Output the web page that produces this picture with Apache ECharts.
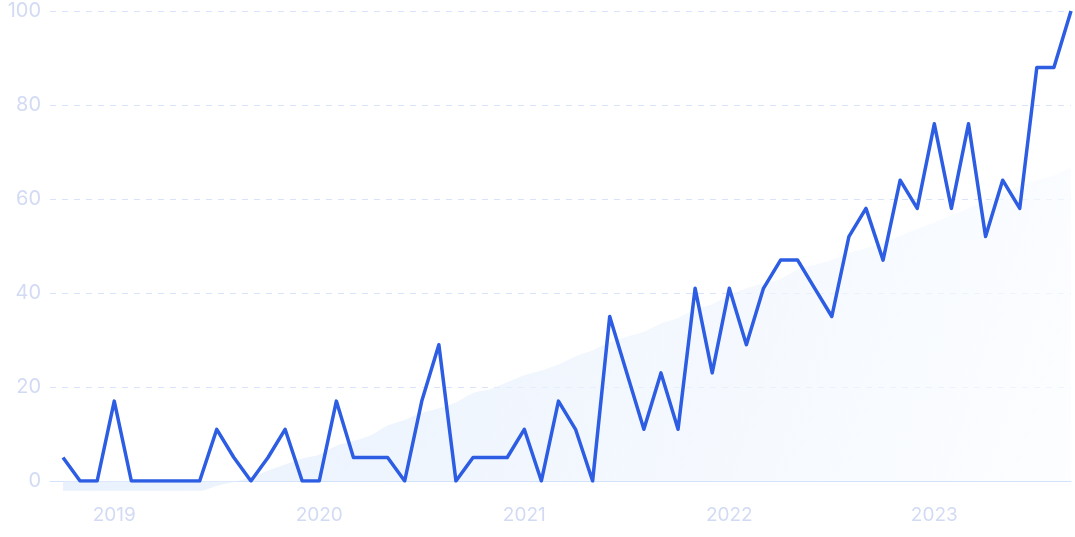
<!DOCTYPE html>
<html>
<head>
    <meta charset="utf-8">
    <script type="text/javascript" src="https://cdn.jsdelivr.net/npm/echarts@6/dist/echarts.min.js"></script>
    <title>interest over time</title>
    <style>
        html, body { margin: 0; padding: 0; background: #fff; }
    </style>
</head>
<body>
<div id="main" style="width: 1075px;height:537px;"></div>
<script type="text/javascript">

    // monthly categories, Oct 2018 .. Sep 2023
    var months = [
        '2018-10', '2018-11', '2018-12',
        '2019-01', '2019-02', '2019-03', '2019-04', '2019-05', '2019-06', '2019-07', '2019-08', '2019-09', '2019-10', '2019-11', '2019-12',
        '2020-01', '2020-02', '2020-03', '2020-04', '2020-05', '2020-06', '2020-07', '2020-08', '2020-09', '2020-10', '2020-11', '2020-12',
        '2021-01', '2021-02', '2021-03', '2021-04', '2021-05', '2021-06', '2021-07', '2021-08', '2021-09', '2021-10', '2021-11', '2021-12',
        '2022-01', '2022-02', '2022-03', '2022-04', '2022-05', '2022-06', '2022-07', '2022-08', '2022-09', '2022-10', '2022-11', '2022-12',
        '2023-01', '2023-02', '2023-03', '2023-04', '2023-05', '2023-06', '2023-07', '2023-08', '2023-09'
    ];

    // search interest (blue line)
    var interest = [
        5, 0, 0,
        17, 0, 0, 0, 0, 0, 11, 5, 0, 5, 11, 0,
        0, 17, 5, 5, 5, 0, 17, 29, 0, 5, 5, 5,
        11, 0, 17, 11, 0, 35, 23, 11, 23, 11, 41, 23,
        41, 29, 41, 47, 47, 41, 35, 52, 58, 47, 64, 58,
        76, 58, 76, 52, 64, 58, 88, 88, 100
    ];

    // background trend (shaded area)
    var trend = [
        -2.1, -2.1, -2.1,
        -2.1, -2.1, -2.1, -2.1, -2.1, -2.1, -1.0, -0.2, 0.8, 2.2, 3.5, 4.8,
        5.6, 7.5, 8.5, 9.7, 11.8, 13, 14.5, 15.5, 16.7, 18.7, 19.5, 21,
        22.5, 23.5, 24.8, 26.5, 27.8, 29.5, 30.7, 31.7, 33.5, 34.7, 36.5, 37.6,
        39.5, 41, 42, 43, 45, 46, 47, 48.5, 49.5, 50.7, 52.2, 53.6,
        55, 56.5, 58, 59.5, 61, 62.7, 64, 65, 66.7
    ];

    var yTicks = [0, 20, 40, 60, 80, 100];

    var labelColor = '#d3dbf4';
    var fontFamily = 'Inter, "Noto Sans", sans-serif';

    var myChart = echarts.init(document.getElementById('main'));

    var option = {
        animation: false,
        grid: [
            { left: 63, right: 4, top: 11, bottom: 56 },   // line
            { left: 63, right: 4, top: 11, bottom: 46 },   // trend area
            { left: 50, right: 4, top: 11, bottom: 56 }    // y labels + grid lines
        ],
        xAxis: [
            {
                gridIndex: 0,
                type: 'category',
                data: months,
                boundaryGap: false,
                axisLine: { show: false },
                axisTick: { show: false },
                axisLabel: {
                    interval: function (index, value) {
                        return value.slice(5) === '01';
                    },
                    formatter: function (value) {
                        return value.slice(0, 4);
                    },
                    color: labelColor,
                    fontSize: 19,
                    fontFamily: fontFamily,
                    margin: 25
                },
                splitLine: { show: false }
            },
            {
                gridIndex: 1,
                type: 'category',
                data: months,
                boundaryGap: false,
                show: false
            },
            {
                gridIndex: 2,
                type: 'category',
                data: [''],
                axisLine: { show: true, lineStyle: { color: '#d4e2fa', width: 1 } },
                axisTick: { show: false },
                axisLabel: { show: false },
                splitLine: { show: false }
            }
        ],
        yAxis: [
            { gridIndex: 0, type: 'value', min: 0, max: 100, show: false },
            { gridIndex: 1, type: 'value', min: -2.128, max: 100, show: false },
            {
                gridIndex: 2,
                type: 'value',
                min: yTicks[0],
                max: yTicks[yTicks.length - 1],
                interval: 20,
                axisLine: { show: false },
                axisTick: { show: false },
                axisLabel: {
                    color: labelColor,
                    fontSize: 20,
                    fontFamily: fontFamily,
                    margin: 9
                },
                splitLine: {
                    show: true,
                    showMinLine: false,
                    lineStyle: { color: '#d9e4fa', type: [6, 6], width: 1 }
                }
            }
        ],
        series: [
            {
                name: 'trend',
                type: 'line',
                xAxisIndex: 1,
                yAxisIndex: 1,
                data: trend,
                smooth: 0.3,
                showSymbol: false,
                lineStyle: { width: 0 },
                areaStyle: {
                    color: new echarts.graphic.LinearGradient(0, 0, 1, 1, [
                        { offset: 0, color: '#dce9fb' },
                        { offset: 1, color: '#fafcff' }
                    ])
                },
                z: 1
            },
            {
                name: 'interest',
                type: 'line',
                xAxisIndex: 0,
                yAxisIndex: 0,
                data: interest,
                showSymbol: false,
                lineStyle: { color: '#2d5de3', width: 3.5, join: 'round' },
                itemStyle: { color: '#2d5de3' },
                z: 3
            }
        ]
    };
    myChart.setOption(option);

</script>
</body>
</html>
